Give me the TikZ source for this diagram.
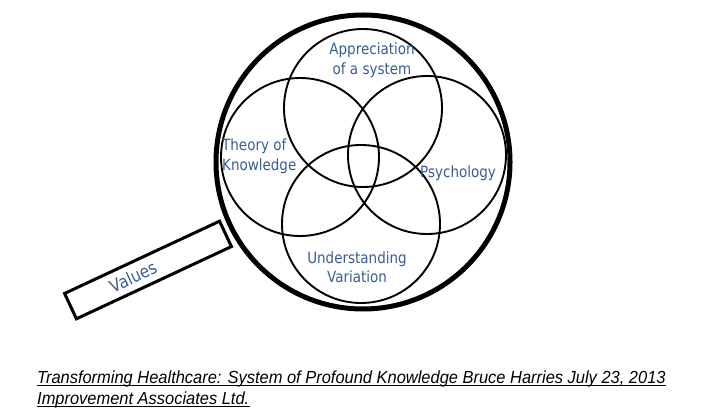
\documentclass[tikz,border=0pt]{standalone}
\usepackage{fontspec}
\setmainfont{DejaVu Sans}
\newfontfamily\lblfont[FakeStretch=0.87]{DejaVu Sans}
\newfontfamily\notefont[FakeStretch=0.94]{Liberation Sans}
\usetikzlibrary{positioning}
\definecolor{labelblue}{RGB}{58,92,150}
\tikzset{
x=1pt, y=-1pt, % one unit is one pixel, y grows downwards
on grid, % relative distances go from centre to centre
lens/.style={draw, circle, line width=5pt, fill=white, minimum size=294pt}, % the thick rim of the glass
venn/.style={draw, circle, line width=1.9pt, minimum size=158pt}, % one of the four overlapping fields
grip/.style={draw, rectangle, line width=3pt, minimum width=171pt, minimum height=28pt, rotate=25}, % the handle
lbl/.style={text=labelblue, font=\lblfont\fontsize{15.5}{19.5}\selectfont, inner sep=0pt}, % blue words in the picture
note/.style={font=\notefont\itshape\fontsize{17.5}{20}\selectfont, inner sep=0pt, anchor=base west}, % caption lines
}
\begin{document}
\begin{tikzpicture}
                \useasboundingbox (0,0) rectangle (711,419);
                \node[grip] (handle) at (148,270) {};
                \node[lens] (lens) at (363,162) {};
                \node[venn, above=54pt of lens] (system) {};
                \node[venn, above left=5pt and 63pt of lens] (theory) {};
                \node[venn, above right=7pt and 64pt of lens] (psych) {};
                \node[venn, below left=62pt and 2pt of lens] (variation) {};
                \node[lbl, align=center] (systemtxt) at (372,60) {Appreciation\\of a system};
                \node[lbl, align=left, anchor=west] (theorytxt) at (222,156) {Theory of\\Knowledge};
                \node[lbl, anchor=base west] (psychtxt) at (420,178) {Psychology};
                \node[lbl, align=center] (variationtxt) at (357,267) {Understanding\\Variation};
                \node[lbl, rotate=25, font=\lblfont\fontsize{17.5}{20}\selectfont] (valuestxt) at (133,277) {Values};
                \node[note] (cap1) at (37,383) {Transforming Healthcare: System of Profound Knowledge Bruce Harries July 23, 2013};
                \node[note] (cap2) at (37,404) {Improvement Associates Ltd.};
                \draw[line width=1pt] ([yshift=-2pt]cap1.base west) -- ([yshift=-2pt]cap1.base east);
                \draw[line width=1pt] ([yshift=-2pt]cap2.base west) -- ([yshift=-2pt]cap2.base east);
            \end{tikzpicture}
\end{document}
